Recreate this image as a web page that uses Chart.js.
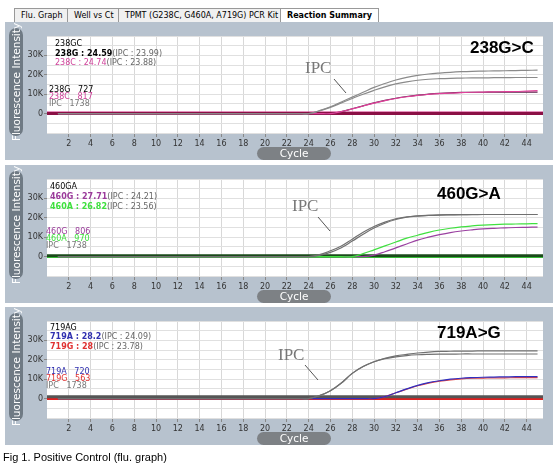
<!DOCTYPE html>
<html><head><meta charset="utf-8">
<script src="https://cdn.jsdelivr.net/npm/chart.js@4"></script>
<style>
body{margin:0;width:560px;height:467px;background:#fff;position:relative;overflow:hidden;font-family:"DejaVu Sans",sans-serif}
.abs{position:absolute;white-space:nowrap}
.panel{position:absolute;left:5px;width:548px;height:138px;background:#b7c2ce}
.panel canvas{position:absolute;left:0;top:0}
.ypill{position:absolute;left:4px;top:6px;width:14px;height:108px;background:#6f7a84;border-radius:7px}
.ypill span{position:absolute;left:50%;top:50%;transform:translate(-50%,-50%) rotate(-90deg);color:#fff;font-size:10.5px;white-space:nowrap}
.cpill{position:absolute;left:252px;top:125px;width:74px;height:13px;background:#7d8185;border-radius:7px;color:#fff;font-size:10.5px;text-align:center;line-height:13px}
.s{font-size:8px;line-height:8px}
.big{font-family:"Liberation Sans",Arial,sans-serif;font-weight:bold;font-size:17px;color:#000}
.ipc{font-family:"Liberation Serif",serif;font-size:17px;color:#777}
.tab{position:absolute;top:8px;height:13px;font-size:8px;line-height:13px;border:1px solid #999;border-bottom:none;background:#f0f0f0;padding:0 6px}
</style></head><body>
<div class="tab" style="left:14px">Flu. Graph</div>
<div class="tab" style="left:67px">Well vs Ct</div>
<div class="tab" style="left:118px">TPMT (G238C, G460A, A719G) PCR Kit</div>
<div class="tab" style="left:280px;background:#fff;font-weight:bold">Reaction Summary</div>

<div class="panel" id="p1" style="top:22px"><canvas id="c1" width="548" height="138"></canvas><div class="ypill"><span>Fluorescence Intensity</span></div><div class="cpill">Cycle</div></div>
<div class="panel" id="p2" style="top:165px"><canvas id="c2" width="548" height="138"></canvas><div class="ypill"><span>Fluorescence Intensity</span></div><div class="cpill">Cycle</div></div>
<div class="panel" id="p3" style="top:307px"><canvas id="c3" width="548" height="138"></canvas><div class="ypill"><span>Fluorescence Intensity</span></div><div class="cpill">Cycle</div></div>

<div class="abs s" style="left:55px;top:40px">238GC</div>
<div class="abs s" style="left:55px;top:50px"><b>238G : 24.59</b><span style="color:#666">(IPC : 23.99)</span></div>
<div class="abs s" style="left:55px;top:59px;color:#d0409a">238C : 24.74<span style="color:#666">(IPC : 23.88)</span></div>
<div class="abs s" style="left:49px;top:86px">238G &nbsp; 727</div>
<div class="abs s" style="left:49px;top:93px;color:#d0409a">238C &nbsp; 817</div>
<div class="abs s" style="left:49px;top:100px;color:#777">IPC &nbsp; 1738</div>
<div class="abs big" style="left:470px;top:38px">238G&gt;C</div>
<div class="abs ipc" style="left:305px;top:58px">IPC</div>

<div class="abs s" style="left:50px;top:183px">460GA</div>
<div class="abs s" style="left:50px;top:193px;color:#9a3a9a"><b>460G : 27.71</b><span style="color:#666">(IPC : 24.21)</span></div>
<div class="abs s" style="left:50px;top:203px;color:#3ee03e"><b>460A : 26.82</b><span style="color:#666">(IPC : 23.56)</span></div>
<div class="abs s" style="left:46px;top:228px;color:#9a3a9a">460G &nbsp; 806</div>
<div class="abs s" style="left:46px;top:235px;color:#3ee03e">460A &nbsp; 970</div>
<div class="abs s" style="left:46px;top:242px;color:#777">IPC &nbsp; 1738</div>
<div class="abs big" style="left:437px;top:184px">460G&gt;A</div>
<div class="abs ipc" style="left:292px;top:196px">IPC</div>

<div class="abs s" style="left:50px;top:324px">719AG</div>
<div class="abs s" style="left:50px;top:333px;color:#3030b0"><b>719A : 28.2</b><span style="color:#666">(IPC : 24.09)</span></div>
<div class="abs s" style="left:50px;top:343px;color:#e03030"><b>719G : 28</b><span style="color:#666">(IPC : 23.78)</span></div>
<div class="abs s" style="left:46px;top:368px;color:#3030b0">719A &nbsp; 720</div>
<div class="abs s" style="left:46px;top:375px;color:#e03030">719G &nbsp; 563</div>
<div class="abs s" style="left:46px;top:382px;color:#777">IPC &nbsp; 1738</div>
<div class="abs big" style="left:437px;top:323px">719A&gt;G</div>
<div class="abs ipc" style="left:278px;top:345px">IPC</div>
<div class="abs" style="left:3px;top:451px;font-family:'Liberation Sans',Arial,sans-serif;font-size:11px">Fig 1. Positive Control (flu. graph)</div>

<svg class="abs" style="left:0;top:0" width="560" height="467">
<line x1="334" y1="79" x2="346" y2="93" stroke="#555" stroke-width="1"/>
<line x1="318" y1="217" x2="330" y2="231" stroke="#555" stroke-width="1"/>
<line x1="305" y1="365" x2="318" y2="380" stroke="#555" stroke-width="1"/>
</svg>

<script>
const cycles = [1,2,3,4,5,6,7,8,9,10,11,12,13,14,15,16,17,18,19,20,21,22,23,24,25,26,27,28,29,30,31,32,33,34,35,36,37,38,39,40,41,42,43,44,45];
const xTicks = [2,4,6,8,10,12,14,16,18,20,22,24,26,28,30,32,34,36,38,40,42,44];
const yTicks = [0,10000,20000,30000];
const p1_ipcA = [0,0,0,0,0,0,0,0,0,0,0,0,0,0,0,0,0,0,0,0,0,0,0,0,1500,3500,6000,8500,11000,13500,15500,17300,18700,19700,20400,20900,21300,21600,21800,21900,22000,22100,22200,22300,22400];
const p1_ipcB = [0,0,0,0,0,0,0,0,0,0,0,0,0,0,0,0,0,0,0,0,0,0,0,0,1400,3200,5500,7800,10000,12000,13800,15300,16400,17200,17700,18000,18200,18300,18400,18400,18500,18500,18600,18600,18600];
const p1_238G = [0,0,0,0,0,0,0,0,0,0,0,0,0,0,0,0,0,0,0,0,0,0,0,0,0,0,1000,2500,4000,5500,6800,7900,8800,9500,10000,10400,10700,10900,11000,11000,11100,11100,11100,11100,11100];
const p1_238C = [0,0,0,0,0,0,0,0,0,0,0,0,0,0,0,0,0,0,0,0,0,0,0,0,0,0,1000,2400,3900,5400,6700,7800,8700,9400,9900,10300,10600,10800,11000,11100,11200,11300,11400,11600,11800];
const p2_ipcA = [0,0,0,0,0,0,0,0,0,0,0,0,0,0,0,0,0,0,0,0,0,0,0,0,1000,3000,5500,9000,12500,15500,17800,19500,20500,21000,21300,21500,21600,21600,21700,21700,21700,21700,21700,21700,21700];
const p2_ipcB = [0,0,0,0,0,0,0,0,0,0,0,0,0,0,0,0,0,0,0,0,0,0,0,0,600,2200,4600,8000,11500,14700,17200,19100,20300,20900,21200,21400,21500,21600,21600,21700,21700,21700,21700,21700,21700];
const p2_460A = [0,0,0,0,0,0,0,0,0,0,0,0,0,0,0,0,0,0,0,0,0,0,0,0,0,0,0,0,1500,3500,5500,7500,9500,11000,12500,13700,14600,15300,15800,16200,16500,16700,16800,16900,17000];
const p2_460G = [0,0,0,0,0,0,0,0,0,0,0,0,0,0,0,0,0,0,0,0,0,0,0,0,0,0,0,0,0,800,2500,4500,6500,8500,10000,11300,12400,13200,13800,14300,14600,14800,15000,15100,15200];
const p3_ipcA = [0,0,0,0,0,0,0,0,0,0,0,0,0,0,0,0,0,0,0,0,0,0,0,0,1500,4000,8000,13000,16500,19000,20800,22000,22800,23500,24000,24300,24400,24500,24500,24600,24600,24600,24600,24600,24600];
const p3_ipcB = [0,0,0,0,0,0,0,0,0,0,0,0,0,0,0,0,0,0,0,0,0,0,0,0,1500,4000,8000,13000,16500,19000,20600,21500,22200,22600,22800,22900,22900,23000,23000,23000,23000,23000,23000,23000,23000];
const p3_719A = [0,0,0,0,0,0,0,0,0,0,0,0,0,0,0,0,0,0,0,0,0,0,0,0,0,0,0,0,0,0,1000,3000,5000,6800,8200,9200,10000,10500,10800,11000,11100,11200,11300,11300,11300];
const p3_719G = [0,0,0,0,0,0,0,0,0,0,0,0,0,0,0,0,0,0,0,0,0,0,0,0,0,0,0,0,0,0,1000,3000,4900,6600,8000,9000,9700,10200,10500,10600,10700,10700,10800,10800,10800];
const thresholds1 = [0, 300];
const thresholds2 = [400, 0];
const thresholds3 = [1000, 0];

const pts = v => cycles.map((c,i)=>({x:c,y:v[i]}));
const hline = y => [{x:0,y:y},{x:46,y:y}];
const whiteArea = {id:'wa',beforeDraw(ch){const a=ch.chartArea,c=ch.ctx;c.save();c.fillStyle='#fff';c.fillRect(a.left,a.top,a.right-a.left,a.bottom-a.top);c.restore();}};

function make(id, curves, ths){
  const ds = [];
  curves.forEach(([v,col])=>ds.push({data:pts(v),borderColor:col,borderWidth:1.2,pointRadius:0,tension:0.4}));
  ths.forEach(([y,col])=>ds.push({data:hline(y),borderColor:col,borderWidth:3,pointRadius:0}));
  new Chart(document.getElementById(id),{type:'line',data:{datasets:ds},plugins:[whiteArea],
    options:{responsive:false,animation:false,events:[],
      layout:{padding:{top:14,right:10,left:0,bottom:0}},
      plugins:{legend:{display:false},tooltip:{enabled:false}},
      scales:{
        x:{type:'linear',min:0,max:45.5,afterBuildTicks(s){s.ticks=xTicks.map(v=>({value:v}));},afterFit(s){s.height=27;},
          grid:{color:'#d8d8d8',tickLength:4,tickColor:'#888'},border:{display:false},
          ticks:{font:{size:8,family:'DejaVu Sans'},color:'#333',padding:2,maxRotation:0,autoSkip:false}},
        y:{min:-10000,max:40000,afterFit(s){s.width=42;},
          grid:{color:'#e0e0e0',tickLength:3,tickColor:c=>(c.tick&&yTicks.includes(c.tick.value))?'#888':'rgba(0,0,0,0)'},border:{display:false},
          ticks:{stepSize:5000,autoSkip:false,font:{size:8,family:'DejaVu Sans'},color:'#333',padding:1,callback:v=>yTicks.includes(v)?(v===0?'0':(v/1000)+'K'):''}}
      }}});
}
make('c1',[[p1_ipcA,'#8a8a8a'],[p1_ipcB,'#8a8a8a'],[p1_238C,'#e0409a'],[p1_238G,'#5a2048']],[[thresholds1[0],'#8b1045'],[thresholds1[1],'#d02880']]);
make('c2',[[p2_ipcA,'#707070'],[p2_ipcB,'#707070'],[p2_460A,'#40e040'],[p2_460G,'#9a40a0']],[[thresholds2[0],'#1a4a1a'],[thresholds2[1],'#40e040']]);
make('c3',[[p3_ipcA,'#707070'],[p3_ipcB,'#707070'],[p3_719A,'#3030c0'],[p3_719G,'#e04040']],[[thresholds3[0],'#555'],[thresholds3[1],'#e02020']]);
</script>
</body></html>
